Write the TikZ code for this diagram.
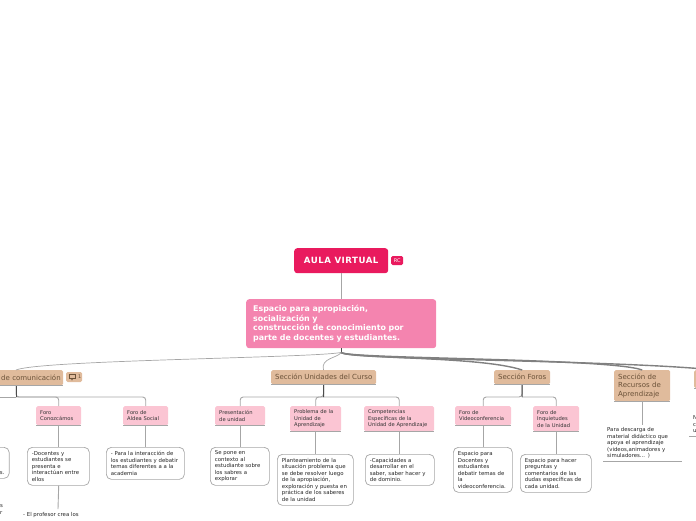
\documentclass[tikz,border=0pt]{standalone}
\usepackage{fontspec}
\setmainfont{DejaVu Sans}
\usepackage{xcolor}
\definecolor{rootpink}{HTML}{E91A5E}
\definecolor{mainpink}{HTML}{F484AF}
\definecolor{seccol}{HTML}{E0BB9C}
\definecolor{sectext}{HTML}{6A5138}
\definecolor{foropink}{HTML}{FBC5D3}
\definecolor{linegray}{HTML}{A6A6A6}

\tikzset{
    seccion/.style={anchor=north west, fill=seccol, rounded corners=1.5pt, text=sectext, font=\fontsize{7}{8.4}\selectfont, align=left, inner xsep=4pt, inner ysep=0pt},
    foro/.style={anchor=north west, fill=foropink, rounded corners=1.5pt, text=black!80, font=\fontsize{5.2}{6.5}\selectfont, align=left, inner xsep=4pt, inner ysep=0pt},
    nota/.style={anchor=north west, draw=linegray, fill=white, line width=0.7pt, rounded corners=5pt, text=black!85, font=\fontsize{5.4}{6.5}\selectfont, align=left, inner xsep=4.5pt, inner ysep=0pt},
    libre/.style={anchor=north west, text=black!85, font=\fontsize{5.4}{6.5}\selectfont, align=left, inner xsep=4pt, inner ysep=0pt},
    rama/.style={draw=linegray, line width=0.9pt},
    raiz/.style={draw=linegray, line width=1pt},
    oscura/.style={draw=black!70, line width=1pt},
    curva/.style={draw=black!50, line width=1.4pt},
    base/.style={draw=linegray, line width=0.9pt},
    etiqueta/.style={anchor=west, fill=seccol, rounded corners=1.5pt, text=sectext, font=\fontsize{5}{6}\selectfont, inner sep=0pt}
}

\begin{document}
\begin{tikzpicture}[x=1pt, y=-1pt]
    \useasboundingbox (0,0) rectangle (696,520);

    % Center nodes
    \node[anchor=north west, fill=rootpink, rounded corners=3pt, minimum width=94pt, minimum height=25pt, inner sep=0pt, text=white, font=\fontsize{8.6}{9}\selectfont\bfseries\addfontfeature{LetterSpace=6}] (aula) at (294,248) {AULA VIRTUAL};
    \node[anchor=west, fill=rootpink, rounded corners=1.5pt, minimum width=12pt, minimum height=9pt, inner sep=0pt, text=white, font=\fontsize{5}{6}\selectfont] (rc) at (391,260.5) {RC};
    \node[anchor=north west, fill=mainpink, rounded corners=3pt, text width=176pt, minimum height=49pt, inner xsep=7pt, inner ysep=0pt, text=white, font=\fontsize{7.9}{9.8}\selectfont\bfseries, align=left] (espacio) at (246,299) {Espacio para apropiación,\\socialización y\\construcción de conocimiento por\\parte de docentes y estudiantes.};
    \coordinate (centro) at (341,352.5);

    % Sections
    \node[seccion, text width=62pt, minimum height=15pt, align=right, inner xsep=2.5pt] (comunicacion) at (-4,370) {de comunicación};
    \node[etiqueta, minimum width=16pt, minimum height=10pt] (comentario) at (66,377) {\hspace{11pt}1};
    \node[seccion, minimum width=105pt, minimum height=14pt, inner xsep=0pt, align=center] (unidades) at (271,370) {Sección Unidades del Curso};
    \node[seccion, minimum width=56pt, minimum height=14pt, inner xsep=0pt, align=center] (foros) at (494,370) {Sección Foros};
    \node[seccion, text width=48pt, minimum height=31pt] (recursos) at (614,370) {Sección de\\Recursos de\\Aprendizaje};
    \node[seccion, text width=32pt, minimum height=18pt] (ultima) at (694,370) {};

    % Foro headers
    \node[foro, text width=37pt, minimum height=19pt] (conozcamos) at (36,406) {Foro\\Conozcámos};
    \node[foro, text width=37pt, minimum height=19pt] (aldea) at (123,406) {Foro de\\Aldea Social};
    \node[foro, text width=42pt, minimum height=19pt] (presentacion) at (215,406) {Presentación\\de unidad};
    \node[foro, text width=43pt, minimum height=25pt] (problema) at (290,406) {Problema de la\\Unidad de\\Aprendizaje};
    \node[foro, text width=62pt, minimum height=25pt] (competencias) at (364,406) {Competencias\\Específicas de la\\Unidad de Aprendizaje};
    \node[foro, text width=48pt, minimum height=19pt] (video) at (455,406) {Foro de\\Videoconferencia};
    \node[foro, text width=38pt, minimum height=25pt] (inquietudes) at (533,406) {Foro de\\Inquietudes\\de la Unidad};

    % Notes
    \node[nota, text width=15pt, minimum height=31pt, anchor=north east] (notaizq) at (9.5,447) {};
    \node[libre, anchor=east, inner xsep=0pt] (puntos) at (4.5,473) {s.};
    \node[nota, text width=53pt, minimum height=38pt] (docentes) at (27,447) {-Docentes y\\estudiantes se\\presenta e\\interactúan entre\\ellos};
    \node[nota, text width=69pt, minimum height=32pt] (interaccion) at (106,447) {- Para la interacción de\\los estudiantes y debatir\\temas diferentes a a la\\academia};
    \node[nota, text width=50pt, minimum height=38pt] (contexto) at (210,447) {Se pone en\\contexto al\\estudiante sobre\\los sabres a\\explorar};
    \node[nota, text width=67pt, minimum height=51pt] (planteamiento) at (277,454) {Planteamiento de la\\situación problema que\\se debe resolver luego\\de la apropiación,\\exploración y puesta en\\práctica de los saberes\\de la unidad};
    \node[nota, text width=60pt, minimum height=31pt] (capacidades) at (365,454) {-Capacidades a\\desarrollar en el\\saber, saber hacer y\\de dominio.};
    \node[nota, text width=50pt, minimum height=45pt] (espaciovideo) at (453,447) {Espacio para\\Docentes y\\estudiantes\\debatir temas de\\la\\videoconferencia.};
    \node[nota, text width=62pt, minimum height=38pt] (espaciodudas) at (520,454) {Espacio para hacer\\preguntas y\\comentarios de las\\dudas específicas de\\cada unidad.};
    \node[libre, text width=71pt, minimum height=36pt] (descarga) at (603,425) {Para descarga de\\material didáctico que\\apoya el aprendizaje\\(videos,animadores y\\simuladores... )};
    \node[libre, text width=32pt, minimum height=24pt] (ultimanota) at (689,412) {N\\c\\u};
    \node[libre, inner xsep=0pt] (esa) at (0,504.5) {s};
    \node[libre, inner xsep=0pt] (erre) at (0,511) {r};
    \node[libre, inner xsep=0pt] (profesor) at (23,512) {- El profesor crea los};
    \coordinate (bajoprofesor) at (58,509);

    % Comment icon
    \draw[sectext, line width=0.7pt] (69,374.5) rectangle (75,378.5);
    \fill[sectext] (71,378.5) -- (73,378.5) -- (72,380.5) -- cycle;

    % Curved branches
    \draw[raiz] (aula.south -| centro) -- (espacio.north -| centro);
    \draw[oscura] (espacio.south -| centro) -- (centro);
    \draw[raiz, line width=0.7pt] (centro) .. controls (310,358) and (40,360) .. (16,370);
    \draw[raiz, line width=0.7pt] (centro) .. controls (338,358) and (320,358) .. (323.5,370);
    \draw[curva] (centro) .. controls (350,359) and (480,356) .. (foros.north);
    \draw[curva] (centro) .. controls (350,359) and (610,358) .. (recursos.north);
    \draw[curva] (centro) .. controls (350,360) and (620,360) .. (ultima.north);

    % Section to header branches
    \draw[rama, rounded corners=3pt] (16,385) -- (16,397) -| (conozcamos.north);
    \draw[rama, rounded corners=3pt] (16,397) -| (aldea.north);
    \draw[rama] (16,397) -- (-4,397);
    \draw[oscura] (16,385) -- (16,397);
    \draw[rama, rounded corners=3pt] (unidades.south) -- (323.5,397) -| (presentacion.north);
    \draw[rama, rounded corners=3pt] (323.5,397) -| (problema.north);
    \draw[rama, rounded corners=3pt] (323.5,397) -| (competencias.north);
    \draw[oscura] (unidades.south) -- (323.5,397);
    \draw[rama, rounded corners=3pt] (foros.south) -- (522,397) -| (video.north);
    \draw[rama, rounded corners=3pt] (522,397) -| (inquietudes.north);
    \draw[oscura] (foros.south) -- (522,397);

    % Header to note stems
    \foreach \a/\b in {conozcamos/docentes, aldea/interaccion, presentacion/contexto, problema/planteamiento, competencias/capacidades, video/espaciovideo, inquietudes/espaciodudas, recursos/descarga}
        \draw[rama] (\a.south) -- (\a.south |- \b.north);
    \draw[rama] (docentes.south -| conozcamos.south) -- (bajoprofesor);

    % Lines under the headers
    \foreach \n in {comunicacion, unidades, foros, recursos, ultima, conozcamos, aldea, presentacion, problema, competencias, video, inquietudes, descarga, ultimanota}
        \draw[base] (\n.south west) -- (\n.south east);

\end{tikzpicture}
\end{document}
